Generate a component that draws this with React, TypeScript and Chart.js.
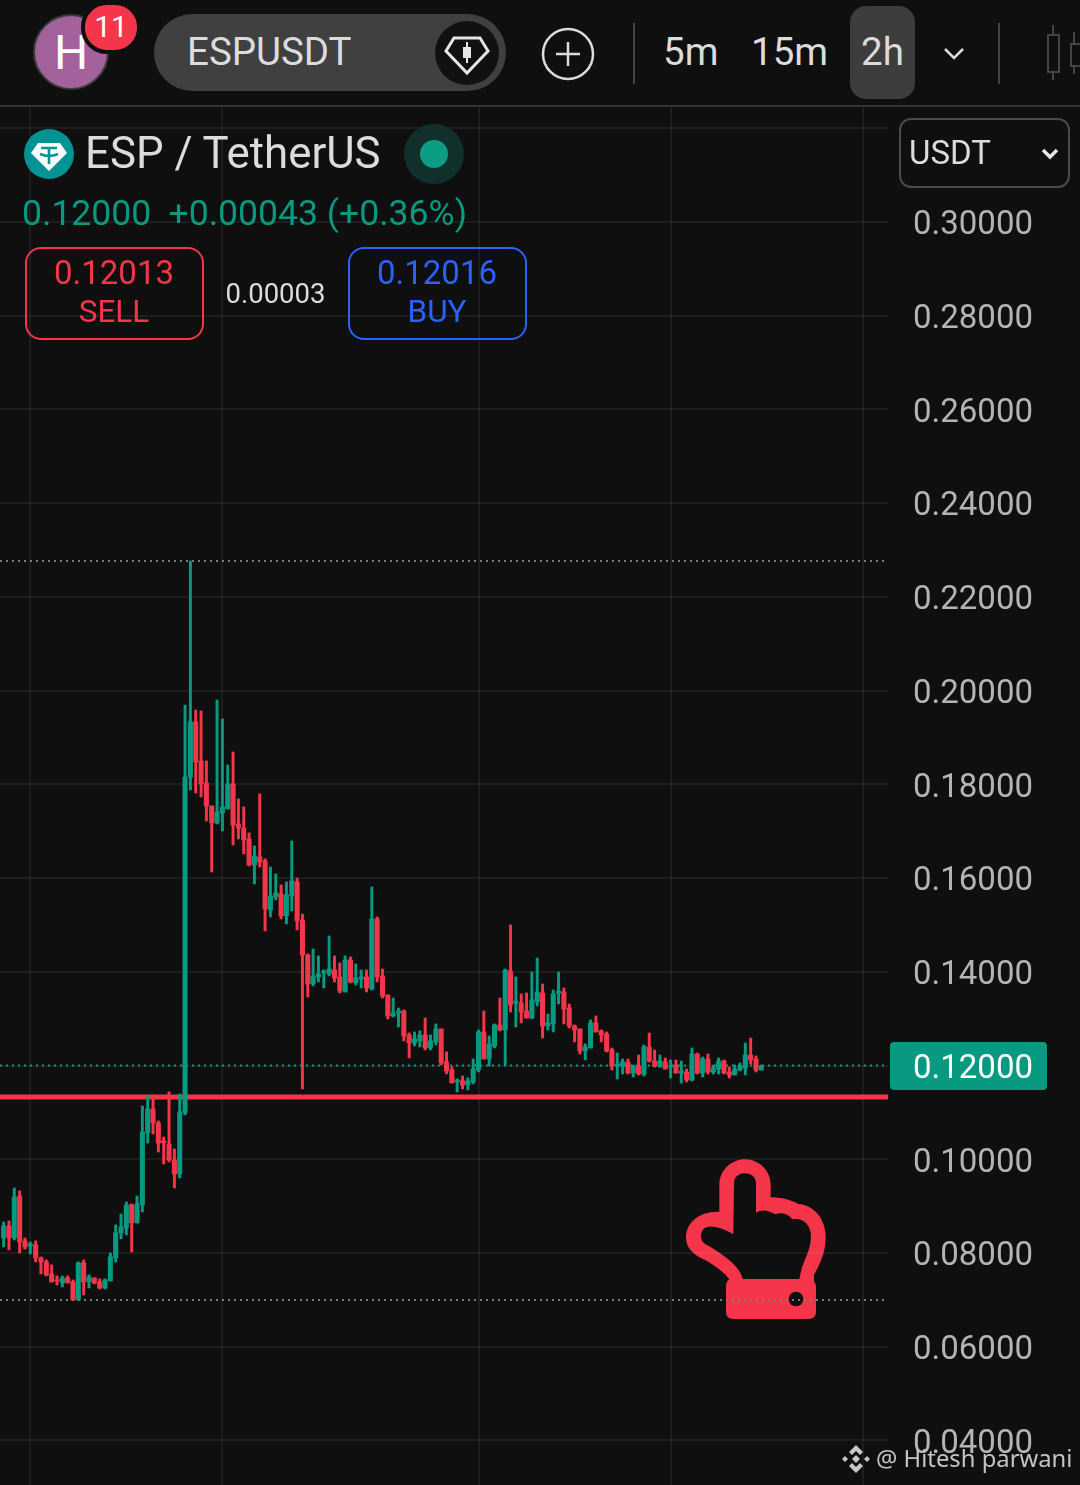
import React, { useEffect, useRef } from "react";
import { Chart, registerables } from "chart.js";

Chart.register(...registerables);

const opens = [
  .08322,.08578,.08322,.09218,.08258,.08151,.08173,.07895,.07810,.07554,
  .07426,.07362,.07469,.07383,.06999,.07788,.07383,.07469,.07383,.07255,
  .07405,.07895,.08429,.08535,.09026,.08642,.09026,.10562,.11074,.10775,
  .10391,.10327,.09986,.09687,.10988,.18158,.19331,.18500,.18030,.17540,
  .17177,.17390,.17476,.18009,.17156,.17070,.16836,.16281,.16452,.16366,
  .15321,.15599,.15663,.15193,.15620,.15919,.15106,.14360,.13741,.13891,
  .13976,.13955,.14040,.13891,.13571,.14253,.13763,.13848,.13891,.13635,
  .15128,.13912,.13507,.13059,.13123,.13166,.12653,.12483,.12525,.12653,
  .12376,.12504,.12781,.12078,.11907,.11651,.11672,.11587,.11651,.11907,
  .12717,.12141,.12418,.12866,.12760,.14018,.13336,.13336,.13165,.13016,
  .13357,.13549,.12845,.12888,.13549,.13570,.13229,.12845,.12781,.12312,
  .12376,.12909,.12738,.12674,.12332,.11991,.11991,.12076,.11841,.11991,
  .11820,.12396,.12097,.11969,.12076,.11969,.12012,.11841,.11863,.11692,
  .12247,.11841,.12140,.11863,.11927,.12097,.11863,.11799,.11905,.11948,
  .12225,.12140,.11905,
];
const highs = [
  .08663,.08685,.09388,.09324,.08322,.08237,.08258,.07917,.07853,.07746,
  .07511,.07511,.07511,.07426,.07810,.07853,.07533,.07469,.07448,.07448,
  .08002,.08599,.08834,.09090,.09047,.09218,.11138,.11351,.11372,.10818,
  .10476,.11436,.10220,.11393,.19694,.22766,.19587,.19566,.18500,.17540,
  .19801,.19395,.18414,.18692,.17689,.17518,.16964,.16687,.17796,.16409,
  .16238,.16089,.15855,.15919,.16793,.16002,.15234,.14381,.14488,.14339,
  .14040,.14765,.14339,.14189,.14339,.14317,.14168,.14040,.14040,.15810,
  .15170,.14061,.13507,.13443,.13229,.13187,.12696,.12717,.12739,.13016,
  .12653,.12888,.12781,.12291,.11971,.11715,.11779,.11736,.12141,.12760,
  .13165,.12632,.12888,.13442,.14061,.15000,.13890,.13528,.13549,.13997,
  .14295,.13741,.13101,.13613,.13997,.13656,.13314,.12866,.12781,.12461,
  .12973,.13058,.12760,.12717,.12375,.12268,.12140,.12140,.12012,.12225,
  .12439,.12695,.12332,.12225,.12161,.12119,.12119,.12097,.11927,.12375,
  .12268,.12183,.12247,.12012,.12161,.12119,.11969,.12012,.12055,.12481,
  .12588,.12204,.12012,
];
const lows = [
  .08130,.08066,.08279,.08002,.08087,.07981,.07810,.07554,.07511,.07383,
  .07319,.07277,.07362,.06999,.06999,.07106,.07255,.07341,.07234,.07234,
  .07405,.07810,.08301,.08386,.08023,.08642,.08877,.10348,.10540,.10156,
  .09900,.09943,.09388,.09602,.10946,.17881,.17817,.17732,.17220,.16132,
  .17156,.17006,.17476,.16708,.16836,.16516,.16260,.15876,.16238,.14873,
  .15172,.15535,.15129,.15023,.15300,.14895,.11502,.13464,.13699,.13784,
  .13656,.13912,.13784,.13549,.13571,.13763,.13720,.13656,.13571,.13613,
  .13784,.13443,.12995,.13037,.12824,.12525,.12163,.12419,.12398,.12334,
  .12334,.12440,.12014,.11822,.11630,.11438,.11502,.11480,.11608,.11864,
  .12141,.11992,.12376,.12738,.12013,.13144,.12824,.12909,.13016,.12994,
  .13272,.12589,.12760,.12717,.13314,.12888,.12802,.12504,.12248,.12120,
  .12376,.12717,.12504,.12290,.11905,.11713,.11820,.11820,.11756,.11799,
  .11778,.12076,.11969,.11969,.11927,.11735,.11841,.11628,.11650,.11671,
  .11820,.11756,.11820,.11820,.11820,.11820,.11735,.11799,.11884,.11799,
  .12033,.11863,.11905,
];
const closes = [
  .08578,.08322,.09196,.08237,.08130,.08194,.07895,.07810,.07533,.07383,
  .07405,.07469,.07362,.06999,.07788,.07383,.07490,.07362,.07255,.07426,
  .07917,.08429,.08557,.09026,.08642,.09047,.10583,.11074,.10775,.10348,
  .10348,.09986,.09687,.11010,.18158,.19331,.18478,.18009,.17540,.17177,
  .17412,.17518,.18009,.17134,.17070,.16814,.16281,.16473,.16345,.15343,
  .15620,.15684,.15193,.15641,.15940,.15087,.14360,.13741,.13912,.13955,
  .14019,.14061,.13869,.13592,.14253,.13784,.13869,.13891,.13656,.15128,
  .13891,.13485,.13059,.13123,.13166,.12632,.12483,.12568,.12653,.12376,
  .12525,.12781,.12056,.11886,.11630,.11694,.11587,.11672,.11928,.12717,
  .12141,.12461,.12866,.12760,.14040,.13293,.13378,.13144,.13016,.13400,
  .13570,.12845,.12909,.13528,.13592,.13208,.12845,.12760,.12312,.12397,
  .12909,.12717,.12653,.12312,.11991,.12033,.12076,.11841,.11991,.11820,
  .12396,.12097,.11991,.12097,.11927,.11991,.11841,.11884,.11692,.12247,
  .11841,.12140,.11863,.11948,.12097,.11841,.11799,.11927,.11991,.12225,
  .12119,.11905,.12000,
];

const tickValues = [0.04, 0.06, 0.08, 0.1, 0.12, 0.14, 0.16, 0.18, 0.2, 0.22, 0.24, 0.26, 0.28, 0.3, 0.32];
const timeGridIndices = [5, 41, 89, 125, 161];
const supportLevel = 0.1133;
const lastPrice = 0.12;
const highestPrice = 0.22766;
const lowestPrice = 0.06998;

const BG = "#0f0f0f";
const GREEN = "#089981";
const RED = "#f5364a";
const BLUE = "#2962ff";
const TEXT = "#dcdcdc";

const Txt = ({ x, y, size, color = TEXT, center, weight, font = "Roboto", children }: any) => (
  <div
    style={{
      position: "absolute",
      left: center ? x - 200 : x,
      width: center ? 400 : undefined,
      textAlign: center ? "center" : "left",
      top: y - size,
      height: size * 2,
      lineHeight: `${size * 2}px`,
      fontSize: size,
      color,
      fontWeight: weight ?? 400,
      fontFamily: `${font}, sans-serif`,
      whiteSpace: "pre",
    }}
  >
    {children}
  </div>
);

const Box = ({ x, y, w, h, r = 0, fill = "transparent", border }: any) => (
  <div
    style={{
      position: "absolute",
      left: x,
      top: y,
      width: w,
      height: h,
      borderRadius: r,
      background: fill,
      border: border ? `2px solid ${border}` : undefined,
      boxSizing: "border-box",
    }}
  />
);

export default function App() {
  const ref = useRef<HTMLCanvasElement>(null);

  useEffect(() => {
    document.body.style.margin = "0";
    document.body.style.background = BG;
    const index = opens.map((_, i) => i);
    const colors = index.map((i) => (closes[i] >= opens[i] ? GREEN : RED));
    const xMin = -0.68;
    const xMax = 165.74;
    const dotEnd = 165.1;
    const level = (v: number, end: number) => [
      { x: xMin, y: v },
      { x: end, y: v },
    ];

    const chart = new Chart(ref.current as HTMLCanvasElement, {
      type: "bar",
      data: {
        datasets: [
          {
            type: "bar",
            grouped: false,
            order: 2,
            barThickness: 4.4,
            backgroundColor: colors,
            borderWidth: 0,
            borderSkipped: false,
            data: index.map((i) => ({ x: i, y: [opens[i], closes[i]] })),
          },
          {
            type: "bar",
            grouped: false,
            order: 3,
            barThickness: 2.3,
            backgroundColor: colors,
            borderWidth: 0,
            borderSkipped: false,
            data: index.map((i) => ({ x: i, y: [lows[i], highs[i]] })),
          },
          {
            type: "line",
            order: 4,
            data: level(supportLevel, xMax),
            borderColor: RED,
            borderWidth: 5,
            pointRadius: 0,
          },
          {
            type: "line",
            order: 5,
            data: level(lastPrice, dotEnd),
            borderColor: GREEN,
            borderWidth: 2,
            borderDash: [2, 4],
            pointRadius: 0,
          },
          {
            type: "line",
            order: 5,
            data: level(highestPrice, dotEnd),
            borderColor: "#7c7c7c",
            borderWidth: 2,
            borderDash: [2, 4],
            pointRadius: 0,
          },
          {
            type: "line",
            order: 5,
            data: level(lowestPrice, dotEnd),
            borderColor: "#7c7c7c",
            borderWidth: 2,
            borderDash: [2, 4],
            pointRadius: 0,
          },
        ],
      } as any,
      options: {
        responsive: false,
        animation: false,
        devicePixelRatio: 1,
        layout: { padding: { top: 107, left: 0, right: 0, bottom: 0 } },
        plugins: { legend: { display: false }, tooltip: { enabled: false } },
        scales: {
          x: {
            type: "linear",
            min: xMin,
            max: xMax,
            offset: false,
            border: { display: false },
            ticks: { display: false },
            grid: { color: "rgba(255,255,255,0.06)", lineWidth: 2, drawTicks: false, offset: false },
            afterBuildTicks: (s: any) => {
              s.ticks = timeGridIndices.map((value) => ({ value }));
            },
            afterFit: (s: any) => {
              s.height = 0;
              s.paddingLeft = 0;
              s.paddingRight = 0;
            },
          },
          y: {
            type: "linear",
            position: "right",
            min: 0.0305,
            max: 0.32454,
            border: { display: false },
            grid: { color: "rgba(255,255,255,0.06)", lineWidth: 2, drawTicks: false },
            afterBuildTicks: (s: any) => {
              s.ticks = tickValues.map((value) => ({ value }));
            },
            afterFit: (s: any) => {
              s.width = 192;
              s.paddingTop = 0;
              s.paddingBottom = 0;
            },
            ticks: {
              autoSkip: false,
              padding: 25,
              labelOffset: 4,
              color: "#b4b4b4",
              font: { family: "Roboto", size: 33 },
              callback: (v: any) => (v > 0.31 ? "" : Number(v).toFixed(5)),
            },
          },
        },
      } as any,
    });
    return () => chart.destroy();
  }, []);

  return (
    <div style={{ position: "absolute", left: 0, top: 0, width: 1080, height: 1485, overflow: "hidden", background: BG }}>
      {/* hand annotation, under the chart */}
      <svg width={1080} height={1485} style={{ position: "absolute", left: 0, top: 0 }}>
        <g transform="translate(670 1140) scale(0.3333)">
          <path
            fill={RED}
            fillRule="evenodd"
            d="M148,215 L148,135 C148,90 185,58 225,58 C265,58 302,90 302,135 L302,172 C330,172 360,178 385,192 C430,195 467,235 467,290 C467,340 450,370 432,405 L432,425 Q438,430 438,440 L438,515 Q438,537 415,537 L190,537 Q168,537 168,515 L168,440 Q168,425 178,418 C160,395 130,372 95,355 C65,340 48,320 48,290 C48,250 85,213 148,215 Z M192,130 C192,110 207,100 225,100 C243,100 258,112 258,130 L258,218 C275,208 295,210 315,223 C335,215 355,222 367,238 C400,232 423,255 423,290 C423,325 405,355 395,385 L388,417 L218,417 C210,380 165,345 105,312 C90,303 90,280 100,268 C115,250 160,265 190,283 Z"
          />
          <circle cx={378} cy={477} r={22} fill="#0f0f0f" />
        </g>
      </svg>

      <canvas ref={ref} width={1080} height={1485} style={{ position: "absolute", left: 0, top: 0, display: "block" }} />

      {/* top bar */}
      <Box x={0} y={0} w={1080} h={105} fill={BG} />
      <Box x={0} y={105} w={1080} h={2} fill="#333333" />
      <div style={{ position: "absolute", left: 33, top: 14, width: 76, height: 76, borderRadius: 38, background: "#a3629c", border: "2px solid #3a3a3a", boxSizing: "border-box" }} />
      <Txt x={71} y={53} size={48} center color="#ffffff">H</Txt>
      <div style={{ position: "absolute", left: 81, top: 1, width: 60, height: 53, borderRadius: 26, background: RED, border: `4px solid ${BG}`, boxSizing: "border-box" }} />
      <Txt x={111} y={27} size={30} center color="#ffffff">11</Txt>
      <Box x={154} y={14} w={352} h={77} r={38.5} fill="#404040" />
      <Txt x={187} y={51} size={38.5}>ESPUSDT</Txt>
      <div style={{ position: "absolute", left: 435, top: 21, width: 64, height: 64, borderRadius: 32, background: "#111111" }} />
      <svg width={1080} height={110} style={{ position: "absolute", left: 0, top: 0 }}>
        <path d="M454,38 L480,38 L488,51 L467,73 L446,51 Z" fill="none" stroke="#e6e6e6" strokeWidth={3} />
        <rect x={463} y={47} width={8} height={11} fill="#e6e6e6" />
        <path d="M467,42 V63" stroke="#e6e6e6" strokeWidth={2} />
        <circle cx={568} cy={54} r={25} fill="none" stroke="#dcdcdc" strokeWidth={2.5} />
        <path d="M556,54 H580 M568,42 V66" stroke="#dcdcdc" strokeWidth={2.5} />
        <path d="M634,23 V84 M999,23 V84" stroke="#444444" strokeWidth={2} />
        <path d="M945,49 L954,58 L963,49" fill="none" stroke="#dcdcdc" strokeWidth={2.5} />
        <path d="M1053,25 V34 M1053,72 V80 M1074,32 V44 M1074,66 V74" stroke="#444444" strokeWidth={2} />
        <rect x={1048} y={35} width={11} height={37} fill="none" stroke="#444444" strokeWidth={2} />
        <rect x={1071} y={44} width={14} height={22} fill="none" stroke="#444444" strokeWidth={2} />
      </svg>
      <Txt x={663} y={51} size={38.5}>5m</Txt>
      <Txt x={751} y={51} size={38.5}>15m</Txt>
      <Box x={850} y={6} w={65} h={93} r={16} fill="#3d3d3d" />
      <Txt x={861} y={51} size={38.5}>2h</Txt>

      {/* symbol block */}
      <svg width={120} height={60} style={{ position: "absolute", left: 0, top: 125 }}>
        <circle cx={49} cy={29} r={25} fill="#009393" />
        <path d="M38,18 H60 L67,28 L49,46 L31,28 Z" fill="#ffffff" />
        <path d="M41,23 H57 M49,23 V39 M40,29 Q49,33 58,29" stroke="#009393" strokeWidth={2.6} fill="none" />
      </svg>
      <Txt x={85} y={154} size={43.8}>ESP / TetherUS</Txt>
      <div style={{ position: "absolute", left: 404, top: 124, width: 60, height: 60, borderRadius: 30, background: "#12302b" }} />
      <div style={{ position: "absolute", left: 420, top: 140, width: 28, height: 28, borderRadius: 14, background: "#0a9f84" }} />
      <Txt x={22} y={214} size={35.6} color={GREEN}>0.12000</Txt>
      <Txt x={168.5} y={214} size={35.6} color={GREEN}>+0.00043 (+0.36%)</Txt>

      <Box x={25} y={247} w={179} h={93} r={16} border={RED} />
      <Txt x={114} y={273} size={33} center color={RED}>0.12013</Txt>
      <Txt x={114} y={311} size={31.5} center color={RED}>SELL</Txt>
      <Txt x={275.5} y={293} size={27.5} center>0.00003</Txt>
      <Box x={348} y={247} w={179} h={93} r={16} border={BLUE} />
      <Txt x={437} y={273} size={33} center color={BLUE}>0.12016</Txt>
      <Txt x={437} y={311} size={31.5} center color={BLUE}>BUY</Txt>

      {/* currency selector */}
      <Box x={899} y={118} w={171} h={70} r={12} fill={BG} border="#4a4a4a" />
      <Txt x={909} y={153} size={33}>USDT</Txt>
      <svg width={30} height={20} style={{ position: "absolute", left: 1035, top: 144 }}>
        <path d="M8,6 L15,13 L22,6" fill="none" stroke="#e6e6e6" strokeWidth={3.5} />
      </svg>

      {/* last price tag */}
      <Box x={890} y={1042} w={157} h={48} r={4} fill={GREEN} />
      <Txt x={913} y={1067} size={33} color="#ffffff">0.12000</Txt>

      {/* watermark */}
      <svg width={30} height={30} style={{ position: "absolute", left: 842, top: 1445 }}>
        <g fill="#c8c8c8">
          <path d="M14,0 L21,7 L18,10 L14,6 L10,10 L7,7 Z" />
          <path d="M14,28 L21,21 L18,18 L14,22 L10,18 L7,21 Z" />
          <path d="M14,10 L18,14 L14,18 L10,14 Z" />
          <path d="M3,11 L6,14 L3,17 L0,14 Z" />
          <path d="M25,11 L28,14 L25,17 L22,14 Z" />
        </g>
      </svg>
      <Txt x={876} y={1459} size={23.8} color="#c4c4c4" font="Noto Sans">@ Hitesh parwani</Txt>
    </div>
  );
}
